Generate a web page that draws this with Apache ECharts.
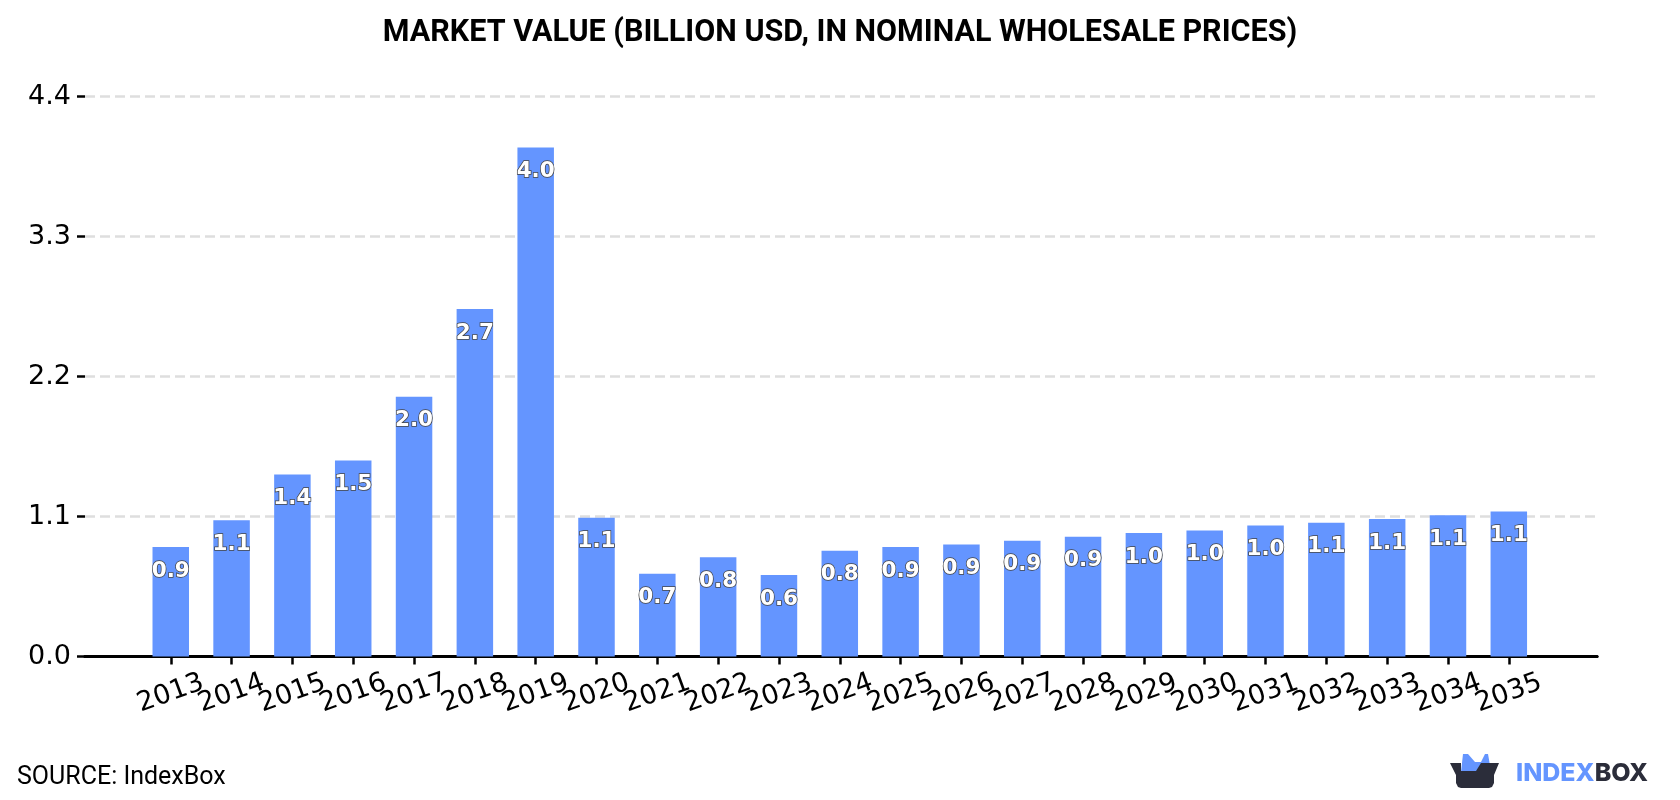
<!DOCTYPE html>
<html>
<head>
<meta charset="utf-8">
<title>Market value</title>
<script src="https://cdn.jsdelivr.net/npm/echarts@6/dist/echarts.min.js"></script>
<style>
  html, body { margin: 0; padding: 0; background: #fff; }
  #chart { width: 1680px; height: 800px; }
</style>
</head>
<body>
<div id="chart"></div>
<script>
const years = [2013, 2014, 2015, 2016, 2017, 2018, 2019, 2020, 2021, 2022, 2023, 2024,
               2025, 2026, 2027, 2028, 2029, 2030, 2031, 2032, 2033, 2034, 2035];
const marketValue = [0.86, 1.07, 1.43, 1.54, 2.04, 2.73, 4.0, 1.09, 0.65, 0.78, 0.64, 0.83,
                     0.86, 0.88, 0.91, 0.94, 0.97, 0.99, 1.03, 1.05, 1.08, 1.11, 1.14];
const valueTicks = { min: 0, max: 4.4, step: 1.1 };
const yearRange = { min: 2011.59, max: 2036.45 };

const BLUE = '#6495ff';
const DARK = '#2b2d3a';

// The year labels overlap on purpose, so alternate years go on two coincident
// axes; a single axis would drop a neighbour of its first and last label.
const yearAxis = (customYears) => ({
  type: 'value',
  position: 'bottom',
  min: yearRange.min,
  max: yearRange.max,
  splitLine: { show: false },
  axisLine: { show: true, onZero: false, lineStyle: { color: '#000', width: 3 } },
  axisTick: { show: true, customValues: customYears, length: 8, lineStyle: { color: '#000', width: 2.5 } },
  axisLabel: {
    customValues: customYears,
    formatter: v => String(v),
    showMinLabel: true,
    showMaxLabel: true,
    hideOverlap: false,
    rotate: 20,
    align: 'center',
    verticalAlign: 'middle',
    margin: 37,
    fontFamily: 'DejaVu Sans',
    fontSize: 27,
    color: '#000'
  }
});

const chart = echarts.init(document.getElementById('chart'), null, { renderer: 'canvas' });

chart.setOption({
  backgroundColor: '#ffffff',
  animation: false,
  title: {
    text: 'MARKET VALUE (BILLION USD, IN NOMINAL WHOLESALE PRICES)',
    left: 'center',
    top: 13,
    textStyle: { fontFamily: 'Roboto', fontWeight: 700, fontSize: 30.5, color: '#000' }
  },
  grid: { left: 85, right: 83, top: 96.5, bottom: 143.5 },
  xAxis: [
    yearAxis(years.filter((y, i) => i % 2 === 0)),
    yearAxis(years.filter((y, i) => i % 2 === 1))
  ],
  yAxis: {
    type: 'value',
    min: valueTicks.min,
    max: valueTicks.max,
    interval: valueTicks.step,
    axisLine: { show: false },
    axisTick: { show: true, length: 8, lineStyle: { color: '#000', width: 2.5 } },
    splitLine: { show: true, lineStyle: { color: '#dedede', width: 2.5, type: [10, 5] } },
    axisLabel: {
      formatter: v => v.toFixed(1),
      margin: 14,
      fontFamily: 'DejaVu Sans',
      fontSize: 27,
      color: '#000'
    }
  },
  series: [{
    type: 'bar',
    barWidth: 36.5,
    data: years.map((y, i) => [y, marketValue[i]]),
    itemStyle: { color: BLUE },
    label: {
      show: true,
      position: 'insideTop',
      distance: 13,
      formatter: p => p.value[1].toFixed(1),
      fontFamily: 'DejaVu Sans',
      fontWeight: 'bold',
      fontSize: 21.5,
      color: '#fff',
      textBorderColor: '#444',
      textBorderWidth: 1.5
    }
  }],
  graphic: [
    {
      type: 'text', left: 17, top: 765,
      style: { text: 'SOURCE: IndexBox', fontFamily: 'Roboto', fontSize: 25, fill: '#000' }
    },
    // Brand mark: blue ears behind a dark box
    {
      type: 'polygon',
      shape: { points: [[1461, 772], [1463, 754], [1468, 754], [1475, 762], [1481, 762], [1485, 754], [1488, 754], [1491, 771], [1478, 772], [1476, 771]] },
      style: { fill: BLUE }
    },
    {
      type: 'polygon',
      shape: { points: [[1450, 763], [1461, 763], [1461, 771], [1476, 771], [1481, 763], [1499, 763], [1494, 775], [1494, 783], [1492, 787], [1489, 788], [1461, 788], [1458, 787], [1456, 783], [1456, 775]] },
      style: { fill: DARK }
    },
    {
      type: 'text', left: 1516, top: 761,
      style: {
        text: '{a|INDEX}{b|BOX}',
        rich: {
          a: { fontFamily: 'Inter', fontWeight: 800, fontSize: 25, fill: BLUE },
          b: { fontFamily: 'Inter', fontWeight: 800, fontSize: 25, fill: DARK }
        }
      }
    }
  ]
});
</script>
</body>
</html>
